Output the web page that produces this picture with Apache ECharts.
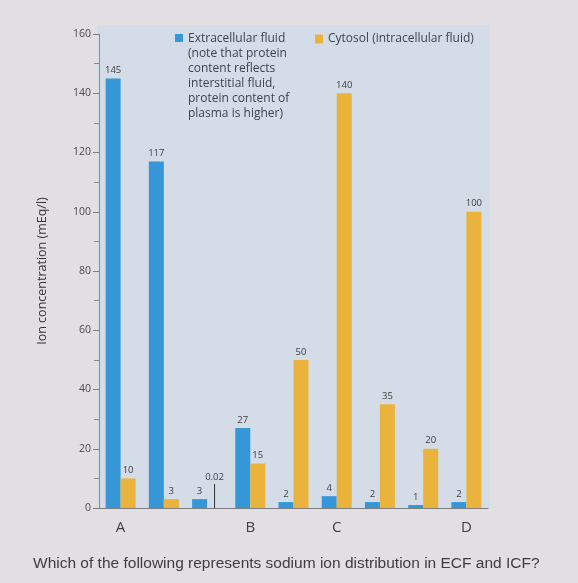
<!DOCTYPE html>
<html>
<head>
<meta charset="utf-8">
<script src="https://cdn.jsdelivr.net/npm/echarts@6/dist/echarts.min.js"></script>
<style>
html,body{margin:0;padding:0;background:#e1dfe3;}
#chart{width:578px;height:583px;}
</style>
</head>
<body>
<div id="chart"></div>
<script>
const categories = ["A", "", "", "B", "", "C", "", "", "D"];
const extracellular = [145, 117, 3, 27, 2, 4, 2, 1, 2];
const cytosol = [10, 3, 0.02, 15, 50, 140, 35, 20, 100];
const yTicks = { min: 0, max: 160, interval: 20 };
const ecfName = "Extracellular fluid\n(note that protein\ncontent reflects\ninterstitial fluid,\nprotein content of\nplasma is higher)";
const icfName = "Cytosol (intracellular fluid)";
const yAxisTitle = "Ion concentration (mEq/l)";
const question = "Which of the following represents sodium ion distribution in ECF and ICF?";
const leaderIndex = 2; // the 0.02 value shown with a leader line

const chart = echarts.init(document.getElementById('chart'), null, { renderer: 'canvas' });

const cytosolData = cytosol.map((v, i) => i === leaderIndex ? {
  value: v,
  label: {
    formatter: '{v|' + v + '}\n{l|}',
    distance: 0,
    rich: {
      v: { fontSize: 9.5, lineHeight: 13, color: '#3c3c3c', fontFamily: 'Open Sans' },
      l: { width: 1, height: 24, backgroundColor: '#333' }
    }
  }
} : v);

// icon: a square at the top of a tall item box, so it lines up with the first text line
const topSquareIcon = 'path://M0,0h0.01v0.01h-0.01zM0,3h8v8h-8zM0,90h0.01v0.01h-0.01z';

chart.setOption({
  backgroundColor: '#e1dfe3',
  animation: false,
  title: {
    text: question,
    left: 33,
    top: 556,
    padding: 0,
    textStyle: { fontSize: 15.5, fontWeight: 'normal', color: '#3d3d3f', fontFamily: 'Liberation Sans' }
  },
  graphic: [{
    type: 'rect',
    z: -10,
    silent: true,
    shape: { x: 98, y: 25, width: 392, height: 483 },
    style: { fill: '#d3dce7' }
  }],
  legend: [{
    data: [{ name: ecfName, icon: topSquareIcon }],
    left: 175,
    top: 31,
    padding: 0,
    itemWidth: 8,
    itemHeight: 90,
    textStyle: { fontSize: 12, lineHeight: 15, color: '#3b4452', fontFamily: 'Open Sans' }
  }, {
    data: [{ name: icfName }],
    left: 315,
    top: 33,
    padding: 0,
    itemWidth: 8,
    itemHeight: 9,
    icon: 'rect',
    textStyle: { fontSize: 12, color: '#3b4452', fontFamily: 'Open Sans' }
  }],
  grid: { left: 99, right: 90, top: 34, bottom: 75, containLabel: false },
  xAxis: {
    type: 'category',
    data: categories,
    axisTick: { show: false },
    axisLine: { lineStyle: { color: '#7d7d80', width: 1.2 } },
    axisLabel: { fontSize: 15, color: '#3f3f42', margin: 12, interval: 0, fontFamily: 'Open Sans' }
  },
  yAxis: {
    type: 'value',
    min: yTicks.min,
    max: yTicks.max,
    interval: yTicks.interval,
    name: yAxisTitle,
    nameLocation: 'middle',
    nameGap: 50,
    nameTextStyle: { fontSize: 12.5, color: '#343436', fontFamily: 'Open Sans' },
    axisLine: { show: true, lineStyle: { color: '#8a8a8e', width: 1 } },
    axisTick: { show: true, length: 6, lineStyle: { color: '#7d7d80' } },
    minorTick: { show: true, splitNumber: 2, length: 5, lineStyle: { color: '#8a8a8e' } },
    splitLine: { show: false },
    axisLabel: { fontSize: 10.5, color: '#4a4a4f', margin: 8, fontFamily: 'Open Sans' }
  },
  series: [{
    name: ecfName,
    type: 'bar',
    data: extracellular,
    barWidth: 15,
    barGap: '0%',
    itemStyle: { color: '#3697d8' },
    label: { show: true, position: 'top', distance: 3, fontSize: 9.5, color: '#3c3c3c', fontFamily: 'Open Sans' }
  }, {
    name: icfName,
    type: 'bar',
    data: cytosolData,
    barWidth: 15,
    barGap: '0%',
    itemStyle: { color: '#eab43c' },
    label: { show: true, position: 'top', distance: 3, fontSize: 9.5, color: '#3c3c3c', fontFamily: 'Open Sans' }
  }]
});
</script>
</body>
</html>
